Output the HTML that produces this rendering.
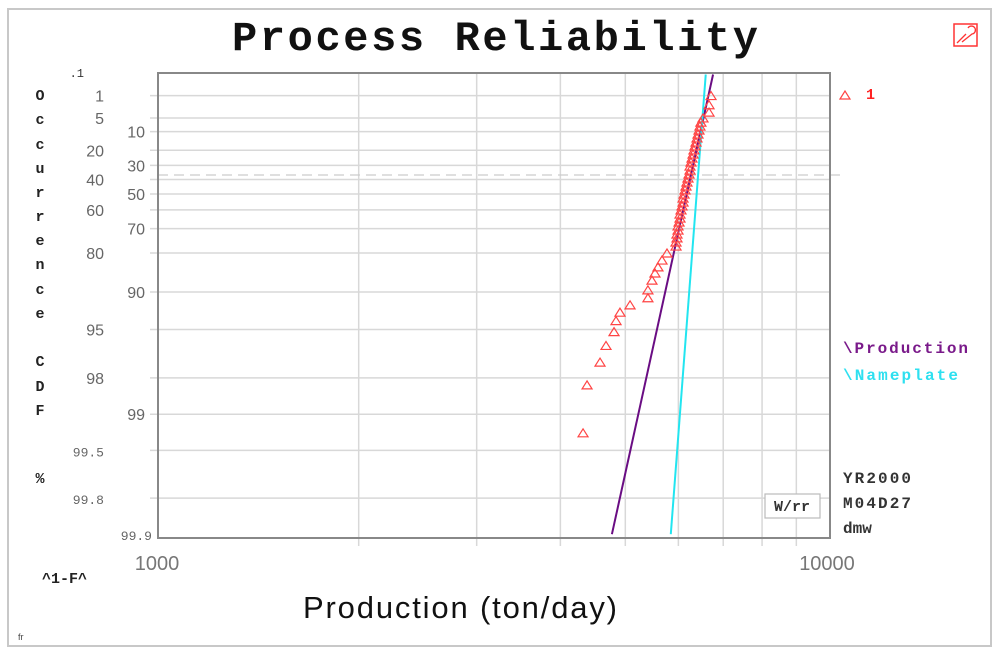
<!DOCTYPE html>
<html><head><meta charset="utf-8"><style>
body{margin:0;background:#fff;}
svg{display:block;}
.m{font-family:"Liberation Mono",monospace;}
.s{font-family:"Liberation Sans",sans-serif;}
</style></head><body>
<svg id="chart" width="1000" height="658" viewBox="0 0 1000 658">
<rect x="8" y="9" width="983" height="637" fill="#fff" stroke="#c8c8c8" stroke-width="2"/>
<text x="495" y="50" text-anchor="middle" class="m" font-size="42" font-weight="bold" fill="#111" textLength="526">Process Reliability</text>
<g><rect x="954" y="24" width="23" height="22" fill="none" stroke="#f33" stroke-width="1.5"/><path d="M957 43 L966 34 M968 28 a4 4 0 1 1 4 6 L962 42" fill="none" stroke="#f33" stroke-width="1.3"/></g>
<g id="grid"></g>
<g id="yticks"></g>
<g id="xticks"></g>
<line id="dash" stroke="#ccc" stroke-width="1.2" stroke-dasharray="10,6"/>
<g id="fits"></g>
<g id="pts"></g>
<rect x="158" y="73" width="672" height="465" fill="none" stroke="#888" stroke-width="2"/>
<g class="m" font-weight="bold" font-size="15" fill="#222">
<text x="40" y="100" text-anchor="middle">O</text><text x="40" y="124" text-anchor="middle">c</text><text x="40" y="149" text-anchor="middle">c</text><text x="40" y="173" text-anchor="middle">u</text><text x="40" y="197" text-anchor="middle">r</text><text x="40" y="221" text-anchor="middle">r</text><text x="40" y="245" text-anchor="middle">e</text><text x="40" y="269" text-anchor="middle">n</text><text x="40" y="294" text-anchor="middle">c</text><text x="40" y="318" text-anchor="middle">e</text><text x="40" y="366" text-anchor="middle">C</text><text x="40" y="391" text-anchor="middle">D</text><text x="40" y="415" text-anchor="middle">F</text><text x="40" y="483" text-anchor="middle">%</text>
</g>
<text x="42" y="583" class="m" font-size="15" font-weight="bold" fill="#222">^1-F^</text>
<text x="18" y="640" class="s" font-size="9" fill="#444">fr</text>
<text x="460" y="618" text-anchor="middle" class="s" font-size="31" fill="#111" textLength="314">Production (ton/day)</text>
<g><path d="M840 99 L845 91 L850 99 Z" fill="none" stroke="#f44" stroke-width="1.2"/><text x="866" y="99" class="m" font-size="15" font-weight="bold" fill="#f22">1</text></g>
<text x="843" y="353" class="m" font-size="16" font-weight="bold" fill="#7a1a8a" textLength="125">\Production</text>
<text x="843" y="380" class="m" font-size="16" font-weight="bold" fill="#2ee0f0" textLength="115">\Nameplate</text>
<g class="m" font-size="16" font-weight="bold" fill="#333"><text x="843" y="483" textLength="68">YR2000</text><text x="843" y="508" textLength="68">M04D27</text><text x="843" y="533">dmw</text></g>
<g><rect x="765" y="494" width="55" height="24" fill="#fff" stroke="#bbb" stroke-width="1.2"/><text x="792" y="511" text-anchor="middle" class="m" font-size="15" font-weight="bold" fill="#333">W/rr</text></g>
</svg>
<script>
const yTickLeft=["1","5","20","40","60","80","95","98","99.5","99.8","99.9"];
const yTickRight=["10","30","50","70","90","99"];
const yGridVals=[1,5,10,20,30,40,50,60,70,80,90,95,98,99,99.5,99.8];
const xGridVals=[2000,3000,4000,5000,6000,7000,8000,9000];
const xTickLabels=["1000","10000"];
const prodX=[6713,6667,6667,6530,6484,6462,6441,6419,6397,6375,6352,6330,6310,6288,6266,6245,6245,6223,6202,6180,6160,6139,6118,6097,6097,6076,6055,6034,6034,6014,5993,5993,5972,5972,5952,5952,5770,5672,5594,5537,5480,5404,5404,5082,4909,4843,4810,4679,4584,4384,4324];
const prodF=[1.0,2.1,3.5,5.0,6.3,7.7,9.3,11.1,13.0,15.2,17.4,19.8,22.4,25.0,27.7,30.5,33.3,36.1,38.9,41.7,44.5,47.2,50.0,52.6,55.2,57.6,60.0,62.4,64.6,66.7,68.7,70.7,72.5,74.2,75.9,77.5,80.0,82.3,84.3,85.9,87.6,89.6,91.0,92.1,93.1,94.1,95.2,96.3,97.3,98.25,99.3];
const fitNames=["Production","Nameplate"];
const fitX0=[4775,5846];
const fitX1=[6760,6592];
const fitF0=[99.9,99.9];
const fitF1=[0.1,0.1];
const charF=[36.8];
(function(){
const NS="http://www.w3.org/2000/svg";
const L=158,R=830,T=73,B=538;
function xs(v){return 157+670*(Math.log10(v)-3);}
function ys(p){const F=p/100;return 175+52*(-Math.log(-Math.log(F)));}
function mk(tag,attrs,parent){const e=document.createElementNS(NS,tag);for(const k in attrs)e.setAttribute(k,attrs[k]);parent.appendChild(e);return e;}
const grid=document.getElementById('grid');
yGridVals.forEach(v=>{const l=mk('line',{x1:150,x2:R,y1:ys(v),y2:ys(v),stroke:'#d8d8d8','stroke-width':1.5},grid);

});
xGridVals.forEach(v=>{const l=mk('line',{x1:xs(v),x2:xs(v),y1:T,y2:B+8,stroke:'#d8d8d8','stroke-width':1.5},grid);

});
const yt=document.getElementById('yticks');
function ylab(s,x,size,mono){const t=mk('text',{x:x,y:ys(parseFloat(s))+6,'text-anchor':'end','font-size':size,fill:'#666','font-family':mono?'"Liberation Mono",monospace':'"Liberation Sans",sans-serif'},yt);t.textContent=s;

}
yTickLeft.forEach(s=>{const small=parseFloat(s)>=99.5;ylab(s,small?(s==="99.9"?152:104):104,small?13:16,small);});
yTickRight.forEach(s=>ylab(s,145,16,false));
const topLbl=mk('text',{x:84,y:77,'text-anchor':'end','font-size':12,fill:'#333','font-family':'"Liberation Mono",monospace'},yt);topLbl.textContent='.1';


const xt=document.getElementById('xticks');
xTickLabels.forEach(s=>{const t=mk('text',{x:xs(parseFloat(s)),y:570,'text-anchor':'middle','font-size':20,fill:'#777','font-family':'"Liberation Sans",sans-serif'},xt);t.textContent=s;

});
const d=document.getElementById('dash');d.setAttribute('x1',L);d.setAttribute('x2',R+10);d.setAttribute('y1',ys(charF[0]));d.setAttribute('y2',ys(charF[0]));
const fits=document.getElementById('fits');const cols=['#6a0d83','#22e5f0'];
fitNames.forEach((n,i)=>{const l=mk('line',{x1:xs(fitX0[i]),y1:ys(fitF0[i]),x2:xs(fitX1[i]),y2:ys(fitF1[i]),stroke:cols[i],'stroke-width':2},fits);

});
const pts=document.getElementById('pts');
prodX.forEach((v,i)=>{const x=xs(v),y=ys(prodF[i]);const p=mk('path',{d:`M${x-5} ${y+4} L${x} ${y-4} L${x+5} ${y+4} Z`,fill:'none',stroke:'#f44','stroke-width':1.2},pts);

});
})();
</script>
</body></html>
